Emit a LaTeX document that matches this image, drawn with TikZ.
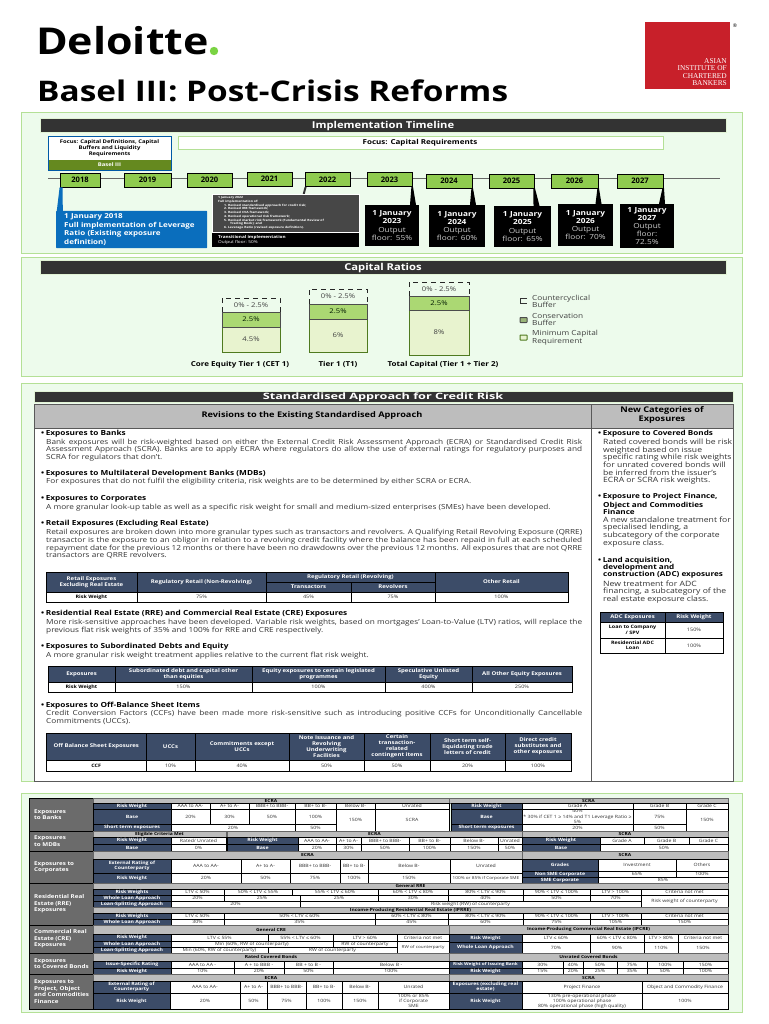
\documentclass[tikz,border=0pt]{standalone}
\usepackage{graphicx}
\usepackage{fontspec}
\setmainfont{Open Sans}[FakeStretch=1.18]
\newfontfamily\plainfont{Open Sans}
\newfontfamily\logoserif{Liberation Serif}
\usetikzlibrary{arrows.meta, positioning, calc}

\definecolor{panelfill}{HTML}{EDFBEC}
\definecolor{panelline}{HTML}{B4E096}
\definecolor{barblack}{HTML}{333333}
\definecolor{headgrey}{HTML}{BDBDBD}
\definecolor{navy}{HTML}{3C4C68}
\definecolor{sidegrey}{HTML}{6B6B6B}
\definecolor{yeargreen}{HTML}{8FCB4F}
\definecolor{stripgreen}{HTML}{65891F}
\definecolor{leverblue}{HTML}{0A6EBD}
\definecolor{midgreen}{HTML}{ABD873}
\definecolor{lowgreen}{HTML}{E8F3CF}
\definecolor{edgegreen}{HTML}{4F7A1F}
\definecolor{logored}{HTML}{C8202A}

\newcommand{\fs}[2]{\fontsize{#1}{#2}\selectfont}
\newcounter{gridno}

% one table cell: style, x1, y1, x2, y2, text
\newcommand{\gridcell}[6]{%
  \stepcounter{gridno}%
  \path[#1] (#2,#3) rectangle (#4,#5);
  \node[#1 text] (gc\arabic{gridno}) at ({(#2+#4)/2},{(#3+#5)/2}) {#6};
}
% a row of cells: y1, y2, style, list of x1/x2/text
\newcommand{\cellrow}[4]{%
  \foreach \xa/\xb/\lab in {#4} {\gridcell{#3}{\xa}{#1}{\xb}{#2}{\lab}}%
}
\newcommand{\sidelabel}[3]{%
  \stepcounter{gridno}%
  \fill[sidegrey] (29,#1) rectangle (93,#2);
  \draw[black, line width=.5pt] (29,#1) rectangle (93,#2);
  \node[sidetext] (gc\arabic{gridno}) at (34,{(#1+#2)/2}) {#3};
}
\newcommand{\bulhead}[3]{%
  \stepcounter{gridno}%
  \node[headtext] (gc\arabic{gridno}) at (#1,#2) {#3};
}

\tikzset{
  panel/.style={fill=panelfill, draw=panelline, line width=1pt},
  titlebar/.style={fill=barblack, draw=panelline!40!white, line width=.3pt},
  titletext/.style={text=white, font=\bfseries\fs{9.5}{10}, inner sep=0pt},
  yearbox/.style={fill=yeargreen, draw=black, line width=.8pt, font=\plainfont\bfseries\fs{7.6}{8}, inner sep=0pt, minimum height=14pt},
  floorbox/.style={fill=black, text=white, inner sep=0pt, align=center, font=\fs{7}{8.2}},
  navycell/.style={fill=navy, draw=black, line width=.5pt},
  navycell text/.style={text=white, font=\bfseries\fs{4.4}{5.2}, inner sep=0pt, align=center},
  midnavy/.style={fill=navy, draw=black, line width=.5pt},
  midnavy text/.style={text=white, font=\bfseries\fs{5.1}{5.9}, inner sep=0pt, align=center},
  datacell/.style={fill=white, draw=black, line width=.5pt},
  datacell text/.style={text=black!80, font=\fs{4.4}{5.1}, inner sep=0pt, align=center},
  middata/.style={fill=white, draw=black, line width=.6pt},
  middata text/.style={text=black!80, font=\fs{4.7}{5.4}, inner sep=0pt, align=center},
  rowcell/.style={fill=white, draw=black, line width=.6pt},
  rowcell text/.style={text=black, font=\bfseries\fs{4.6}{5.4}, inner sep=0pt, align=center},
  greycell/.style={fill=headgrey, draw=black!60, line width=.3pt},
  greycell text/.style={text=black, font=\bfseries\fs{4.2}{5}, inner sep=0pt, align=center},
  sidetext/.style={text=white, font=\bfseries\fs{5.3}{6.5}, inner sep=0pt, anchor=west, align=left},
  headtext/.style={text=black, font=\bfseries\fs{7}{7.6}, inner sep=0pt, anchor=west, align=left},
  sidehead/.style={text=black, font=\bfseries\fs{6.9}{7.4}, inner sep=0pt, anchor=west, align=left},
  bodytext/.style={text=black!80, font=\fs{7}{7.8}, inner sep=0pt, anchor=north west, align=justify},
  sidebody/.style={text=black!80, font=\fs{7.3}{7.6}, inner sep=0pt, anchor=north west, align=left},
  barlabel/.style={font=\bfseries\fs{6.8}{7}, inner sep=0pt, anchor=base},
  barvalue/.style={font=\fs{6.5}{7}, text=black!75, inner sep=0pt},
  legendtext/.style={font=\fs{7}{7.4}, text=black!75, inner sep=0pt, anchor=west, align=left},
}

\begin{document}
\begin{tikzpicture}[x=1pt, y=-1pt]
    \useasboundingbox (0,0) rectangle (768,1024);
    \fill[white] (0,0) rectangle (768,1024);

    % Logos and title
    \node[inner sep=0pt, anchor=base west, font=\plainfont\bfseries\fs{37}{40}] (deloitte) at (36,55) {\scalebox{1.16}[1]{Deloitte}};
    \fill[yeargreen!85!green] (214,51) circle (4.2);
    \node[inner sep=0pt, anchor=base west, font=\plainfont\bfseries\fs{28.4}{30}] (maintitle) at (37,102) {\scalebox{1.175}[1]{Basel III: Post-Crisis Reforms}};
    \fill[logored] (645,22) rectangle (730,89);
    \node[inner sep=0pt, anchor=south east, align=right, text=white, font=\logoserif\fs{7.4}{7.5}] (aicb) at (727,86) {ASIAN\\INSTITUTE OF\\CHARTERED\\BANKERS};
    \node[inner sep=0pt, font=\plainfont\fs{5}{6}] (regmark) at (735,26) {\textregistered};

    % Implementation timeline
    \draw[panel] (21,113) rectangle (742,253);
    \draw[titlebar] (40,118) rectangle (726,132);
    \node[titletext] (timelinetitle) at (383,125.8) {Implementation Timeline};
    \draw[draw=stripgreen!0, fill=white] (48,136) rectangle (171,160);
    \fill[stripgreen] (48,160) rectangle (171,170);
    \draw[draw=teal!70!blue, line width=.7pt] (48,136) rectangle (171,170);
    \node[inner sep=0pt, align=center, font=\bfseries\fs{5}{6}] (focusa) at (109.5,148) {Focus: Capital Definitions, Capital\\Buffers and Liquidity\\Requirements};
    \node[inner sep=0pt, text=white, font=\bfseries\fs{5}{6}] (baselthree) at (109.5,165) {Basel III};
    \draw[fill=white, draw=panelline, line width=.7pt] (178,136) rectangle (663,149);
    \node[inner sep=0pt, font=\bfseries\fs{6.8}{7}] (focusb) at (420,142.5) {Focus: Capital Requirements};

    \coordinate (linestart) at (48,178.5);
    \coordinate (lineend) at (720,178.5);
    \draw[black!60, line width=1.3pt] (linestart) -- (lineend);
    \foreach \yr/\xc/\yc/\wid in {2018/80/180/40, 2019/147.5/180/47, 2020/209.5/180/45, 2021/269.5/179/45,
        2022/327.5/179.5/45, 2023/389.5/179.5/45, 2024/449/181/46, 2025/511.5/181/45, 2026/574.5/181/47, 2027/640/181/46} {
      \node[yearbox, minimum width=\wid pt] (y\yr) at (\xc,\yc) {\yr};
    }

    \node[fill=leverblue, text=white, inner sep=0pt, minimum width=151pt, minimum height=37pt, rounded corners=.5pt] (lever) at (131.5,229.5) {};
    \node[inner sep=0pt, anchor=west, text width=142pt, text=white, align=left, font=\bfseries\fs{6.8}{8.6}] (levertext) at (64,229.5)
        {1 January 2018\\Full implementation of Leverage\\Ratio (Existing exposure\\definition)};
    \fill[leverblue] (y2018.south west) -- ([xshift=3pt]y2018.south west) -- ([xshift=7pt]lever.north west) -- ([xshift=1pt]lever.north west) -- cycle;

    \node[fill=barblack!90, draw=white, line width=.4pt, inner sep=0pt, minimum width=147pt, minimum height=38pt] (fullimpl) at (285.5,213) {};
    \node[inner sep=0pt, anchor=west, text=white, align=left, font=\bfseries\fs{2.9}{3.75}] (fullimpltext) at (218,213)
        {1 January 2022\\Full implementation of:\\
         \hspace*{6pt}1.\ Revised standardised approach for credit risk;\\
         \hspace*{6pt}2.\ Revised IRB framework;\\
         \hspace*{6pt}3.\ Revised CVA framework;\\
         \hspace*{6pt}4.\ Revised operational risk framework;\\
         \hspace*{6pt}5.\ Revised market risk framework (Fundamental Review of\\
         \hspace*{12pt}Trading Book); and\\
         \hspace*{6pt}6.\ Leverage Ratio (revised exposure definition).};
    \node[fill=black, inner sep=0pt, minimum width=147pt, minimum height=14pt] (transit) at (285.5,240) {};
    \node[inner sep=0pt, anchor=west, text=white, align=left, font=\fs{4}{5}] (transittext) at (218,240) {\textbf{Transitional implementation}\\Output floor: 50\%};
    \fill[barblack] (y2022.south west) -- ([xshift=2pt]y2022.south west) -- ([xshift=93pt]fullimpl.north west) -- ([xshift=91pt]fullimpl.north west) -- cycle;

    % Output floor boxes
    \foreach \yr/\xc/\yc/\wid/\hgt/\flr/\off in {2023/392/225.5/54/41/{Output\\floor: 55\%}/19,
        2024/457/226/56/42/{Output\\floor: 60\%}/14, 2025/522.5/226.5/57/41/{Output\\floor: 65\%}/12,
        2026/585.5/225/55/42/{Output\\floor: 70\%}/11, 2027/647/226/54/44/{Output\\floor:\\72.5\%}/13} {
      \node[floorbox, minimum width=\wid pt, minimum height=\hgt pt, text width=\wid pt-4pt] (f\yr) at (\xc,\yc) {\textbf{1 January}\\\textbf{\yr}\\{\color{white!80!black}\flr}};
      \fill[black] ([xshift=-1pt]y\yr.south east) -- ([xshift=.6pt]y\yr.south east) -- ([xshift=\off pt+5pt]f\yr.north) -- ([xshift=\off pt-1pt]f\yr.north) -- cycle;
    }

    % Capital ratios
    \draw[panel] (21,257) rectangle (742,376);
    \draw[titlebar] (40,260) rectangle (726,274);
    \node[titletext] (ratiotitle) at (383,267.8) {Capital Ratios};
    \foreach \nm/\xl/\xr/\ya/\yb/\yc/\yd/\low in {cet/222/280/298/312/327/352/{4.5\%}, tone/309/367/289/304/319/352/{6\%}, total/409/469/282/296/310/355/{8\%}} {
      \fill[lowgreen] (\xl,\yc) rectangle (\xr,\yd);
      \fill[midgreen] (\xl,\yb) rectangle (\xr,\yc);
      \draw[edgegreen, line width=1pt] (\xl,\yc) -- (\xl,\yd) -- (\xr,\yd) -- (\xr,\yc);
      \draw[black!70, line width=1pt] (\xl,\yb) -- (\xl,\yc) -- (\xr,\yc) -- (\xr,\yb) -- cycle;
      \draw[black!85, line width=1pt, dash pattern=on 5pt off 4pt] (\xl,\yb) -- (\xl,\ya) -- (\xr,\ya) -- (\xr,\yb);
      \node[barvalue] (\nm top) at ({(\xl+\xr)/2},{(\ya+\yb)/2}) {0\% - 2.5\%};
      \node[barvalue, text=black!90!green] (\nm mid) at ({(\xl+\xr)/2},{(\yb+\yc)/2}) {2.5\%};
      \node[barvalue] (\nm low) at ({(\xl+\xr)/2},{(\yc+\yd)/2}) {\low};
    }
    \node[barlabel] (cetname) at (240,366) {Core Equity Tier 1 (CET 1)};
    \node[barlabel] (tonename) at (338,366) {Tier 1 (T1)};
    \node[barlabel] (totalname) at (443,366) {Total Capital  (Tier 1 + Tier 2)};
    \draw[black!80, line width=1pt] (527,298) -- (520,298) -- (520,303.5) -- (527,303.5);
    \draw[black!70, fill=midgreen!60!gray, line width=1pt, rounded corners=.5pt] (520,317.5) rectangle (527,322.5);
    \draw[edgegreen, fill=lowgreen, line width=1pt, rounded corners=.5pt] (520,335) rectangle (527,340);
    \node[legendtext] (legca) at (532,301.5) {Countercyclical\\Buffer};
    \node[legendtext] (legcb) at (532,319.5) {Conservation\\Buffer};
    \node[legendtext] (legmc) at (532,337.5) {Minimum Capital\\Requirement};

    % Standardised approach
    \draw[panel] (21,383) rectangle (742,781);
    \draw[titlebar] (34,391) rectangle (733,402.5);
    \node[titletext, font=\bfseries\fs{8.8}{10}] (sacrtitle) at (383,397.4) {\scalebox{1.22}[1]{Standardised Approach for Credit Risk}};
    \fill[white] (34,404) rectangle (733,781);
    \fill[headgrey] (34,404) rectangle (733,428);
    \draw[black!65, line width=.8pt] (34,781) -- (34,404) -- (733,404) -- (733,781) -- cycle (34,428) -- (733,428) (591,404) -- (591,781);
    \node[inner sep=0pt, font=\bfseries\fs{7.8}{9}] (revhead) at (312,415) {Revisions to the Existing Standardised Approach};
    \node[inner sep=0pt, align=center, font=\bfseries\fs{7.8}{9}] (newhead) at (662,415) {New Categories of\\Exposures};

    \bulhead{41}{434}{•\hspace{1.5pt}Exposures to Banks}
    \node[bodytext, text width=536pt] (banksbody) at (46,438.5) {Bank exposures will be risk-weighted based on either the External Credit Risk Assessment Approach (ECRA) or Standardised Credit Risk\linebreak Assessment Approach (SCRA). Banks are to apply ECRA where regulators do allow the use of external ratings for regulatory purposes and\linebreak SCRA for regulators that don't.};
    \bulhead{41}{474}{•\hspace{1.5pt}Exposures to Multilateral Development Banks (MDBs)}
    \node[bodytext, text width=536pt] (mdbbody) at (46,478) {For exposures that do not fulfil the eligibility criteria, risk weights are to be determined by either SCRA or ECRA.};
    \bulhead{41}{499}{•\hspace{1.5pt}Exposures to Corporates}
    \node[bodytext, text width=536pt] (corpbody) at (46,504) {A more granular look-up table as well as a specific risk weight for small and medium-sized enterprises (SMEs) have been developed.};
    \bulhead{41}{524}{•\hspace{1.5pt}Retail Exposures (Excluding Real Estate)}
    \node[bodytext, text width=536pt] (retailbody) at (46,529) {Retail exposures are broken down into more granular types such as transactors and revolvers. A Qualifying Retail Revolving Exposure (QRRE)\linebreak transactor is the exposure to an obligor in relation to a revolving credit facility where the balance has been repaid in full at each scheduled\linebreak repayment date for the previous 12 months or there have been no drawdowns over the previous 12 months. All exposures that are not QRRE\linebreak transactors are QRRE revolvers.};

    % Retail table
    \gridcell{midnavy}{46}{572}{137}{592}{Retail Exposures\\Excluding Real Estate}
    \gridcell{midnavy}{137}{572}{266}{592}{Regulatory Retail (Non-Revolving)}
    \gridcell{midnavy}{266}{572}{435}{582}{Regulatory Retail (Revolving)}
    \gridcell{midnavy}{266}{582}{351}{592}{Transactors}
    \gridcell{midnavy}{351}{582}{435}{592}{Revolvers}
    \gridcell{midnavy}{435}{572}{568}{592}{Other Retail}
    \gridcell{rowcell}{46}{592}{137}{602}{Risk Weight}
    \cellrow{592}{602}{middata}{137/266/75\%, 266/351/45\%, 351/435/75\%, 435/568/100\%}

    \bulhead{41}{614}{•\hspace{1.5pt}Residential Real Estate (RRE) and Commercial Real Estate (CRE) Exposures}
    \node[bodytext, text width=536pt] (rrebody) at (46,619) {More risk-sensitive approaches have been developed. Variable risk weights, based on mortgages' Loan-to-Value (LTV) ratios, will replace the\linebreak previous flat risk weights of 35\% and 100\% for RRE and CRE respectively.};
    \bulhead{41}{647}{•\hspace{1.5pt}Exposures to Subordinated Debts and Equity}
    \node[bodytext, text width=536pt] (subbody) at (46,652) {A more granular risk weight treatment applies relative to the current flat risk weight.};

    % Equity table
    \cellrow{666}{682}{midnavy}{48/115/Exposures, 115/252/{Subordinated debt and capital other\\than equities}, 252/385/{Equity exposures to certain legislated\\programmes}, 385/472/{Speculative Unlisted\\Equity}, 472/572/{All Other Equity Exposures}}
    \gridcell{rowcell}{48}{682}{115}{692}{Risk Weight}
    \cellrow{682}{692}{middata}{115/252/150\%, 252/385/100\%, 385/472/400\%, 472/572/250\%}

    \bulhead{41}{706}{•\hspace{1.5pt}Exposures to Off-Balance Sheet Items}
    \node[bodytext, text width=536pt] (obsbody) at (46,710) {Credit Conversion Factors (CCFs) have been made more risk-sensitive such as introducing positive CCFs for Unconditionally Cancellable\linebreak Commitments (UCCs).};

    % Off balance sheet table
    \cellrow{733}{760}{midnavy}{46.5/146/{Off Balance Sheet Exposures}, 146/195/UCCs, 195/289/{Commitments except\\UCCs}, 289/364/{Note Issuance and\\Revolving\\Underwriting\\Facilities}, 364/430/{Certain\\transaction-\\related\\contingent items}, 430/505/{Short term self-\\liquidating trade\\letters of credit}, 505/571/{Direct credit\\substitutes and\\other exposures}}
    \gridcell{rowcell}{46.5}{760}{146}{771}{CCF}
    \cellrow{760}{771}{middata}{146/195/10\%, 195/289/40\%, 289/364/50\%, 364/430/50\%, 430/505/20\%, 505/571/100\%}

    % New categories
    \node[sidehead] (coveredhead) at (598,434) {•\hspace{1.5pt}Exposure to Covered Bonds};
    \node[sidebody] (coveredbody) at (603,439) {Rated covered bonds will be risk\\weighted based on issue\\specific rating while risk weights\\for unrated covered bonds will\\be inferred from the issuer's\\ECRA or SCRA risk weights.};
    \node[sidehead] (projhead) at (598,497) {•\hspace{1.5pt}Exposure to Project Finance,};
    \node[sidehead] (projsub) at (603,508.5) {Object and Commodities\\Finance};
    \node[sidebody] (projbody) at (603,516.5) {A new standalone treatment for\\specialised lending, a\\subcategory of the corporate\\exposure class.};
    \node[sidehead] (landhead) at (598,561) {•\hspace{1.5pt}Land acquisition,};
    \node[sidehead] (landsub) at (603,571.5) {development and\\construction (ADC) exposures};
    \node[sidebody] (landbody) at (603,580.5) {New treatment for ADC\\financing, a subcategory of the\\real estate exposure class.};
    \cellrow{612}{622}{midnavy}{600/665/{ADC Exposures}, 665/723/{Risk Weight}}
    \gridcell{rowcell}{600}{622}{665}{638}{Loan to Company\\/ SPV}
    \gridcell{middata}{665}{622}{723}{638}{150\%}
    \gridcell{rowcell}{600}{638}{665}{653}{Residential ADC\\Loan}
    \gridcell{middata}{665}{638}{723}{653}{100\%}

    % Risk weight tables
    \draw[panel] (21,793) rectangle (742,1012);
    \sidelabel{798}{831}{Exposures\\to Banks}
    \sidelabel{831}{851}{Exposures\\to MDBs}
    \sidelabel{851}{883}{Exposures to\\Corporates}
    \sidelabel{883}{925}{Residential Real\\Estate (RRE)\\Exposures}
    \sidelabel{925}{953}{Commercial Real\\Estate (CRE)\\Exposures}
    \sidelabel{953}{974}{Exposures\\to Covered Bonds}
    \sidelabel{974}{1009}{Exposures to\\Project, Object\\and Commodities\\Finance}

    % Banks
    \cellrow{798}{803}{greycell}{93/449/ECRA, 449/728/SCRA}
    \cellrow{803}{809}{navycell}{93/171/{Risk Weight}, 451/522/{Risk Weight}}
    \cellrow{803}{809}{datacell}{171/210/{AAA to AA-}, 210/249/{A+ to A-}, 249/295/{BBB+ to BBB-}, 295/336/{BB+ to B-}, 336/375/{Below B-}, 375/449/Unrated, 522/633/{Grade A}, 633/686/{Grade B}, 686/728/{Grade C}}
    \cellrow{809}{824}{navycell}{93/171/Base, 451/522/Base}
    \cellrow{809}{824}{datacell}{171/210/20\%, 210/249/30\%, 249/295/50\%, 295/336/100\%, 522/633/{40\%\\* 30\% if CET 1 ≥ 14\% and T1 Leverage Ratio ≥\\5\%}, 633/686/75\%}
    \cellrow{809}{831}{datacell}{336/375/150\%, 375/449/SCRA, 686/728/150\%}
    \cellrow{824}{831}{navycell}{93/171/{Short term exposures}, 451/522/{Short term exposures}}
    \cellrow{824}{831}{datacell}{171/295/20\%, 295/336/50\%, 522/633/20\%, 633/686/50\%}

    % MDBs
    \cellrow{831}{837}{greycell}{93/226/{Eligible Criteria Met}, 227/522/ECRA, 522/728/SCRA}
    \cellrow{837}{844}{navycell}{93/171/{Risk Weight}, 227/298/{Risk Weight}, 522/600/{Risk Weight}}
    \cellrow{837}{844}{datacell}{171/226/{Rated/ Unrated}, 298/336/{AAA to AA-}, 336/361/{A+ to A-}, 361/409/{BBB+ to BBB-}, 409/450/{BB+ to B-}, 450/498/{Below B-}, 498/522/Unrated, 600/644/{Grade A}, 644/689/{Grade B}, 689/728/{Grade C}}
    \cellrow{844}{851}{navycell}{93/171/Base, 227/298/Base, 522/600/Base}
    \cellrow{844}{851}{datacell}{171/226/0\%, 298/336/20\%, 336/361/30\%, 361/409/50\%, 409/450/100\%, 450/498/150\%, 498/522/50\%, 600/728/50\%}

    % Corporates
    \cellrow{851}{859}{greycell}{93/522/ECRA, 522/728/SCRA}
    \cellrow{859}{873}{navycell}{93/171/{External Rating of\\Counterparty}}
    \cellrow{859}{873}{datacell}{171/241/{AAA to AA-}, 241/290/{A+ to A-}, 290/340/{BBB+ to BBB-}, 340/368/{BB+ to B-}, 368/450/{Below B-}, 450/522/Unrated}
    \cellrow{873}{883}{navycell}{93/171/{Risk Weight}}
    \cellrow{873}{883}{datacell}{171/241/20\%, 241/290/50\%, 290/340/75\%, 340/368/100\%, 368/450/150\%, 450/522/{\fs{4}{5}100\% or 85\% if Corporate SME}}
    \cellrow{859}{871}{navycell}{522/598/Grades}
    \cellrow{859}{871}{datacell}{598/676/Investment, 676/728/Others}
    \cellrow{871}{877}{navycell}{522/598/{Non SME Corporate}}
    \cellrow{871}{877}{datacell}{598/676/65\%, 676/728/100\%}
    \cellrow{877}{883}{navycell}{522/598/{SME Corporate}}
    \cellrow{877}{883}{datacell}{598/728/85\%}

    % Residential real estate
    \cellrow{883}{889}{greycell}{93/728/{General RRE}}
    \cellrow{889}{895}{navycell}{93/171/{Risk Weights}}
    \cellrow{889}{895}{datacell}{171/224/{LTV ≤ 50\%}, 224/292/{50\% < LTV ≤ 55\%}, 292/378/{55\% < LTV ≤ 60\%}, 378/448/{60\% < LTV ≤ 80\%}, 448/523/{80\% < LTV ≤ 90\%}, 523/590/{90\% < LTV ≤ 100\%}, 590/641/{LTV > 100\%}, 641/728/{Criteria not met}}
    \cellrow{895}{901}{navycell}{93/171/{Whole Loan Approach}}
    \cellrow{895}{901}{datacell}{171/224/20\%, 224/300/25\%, 300/378/25\%, 378/448/30\%, 448/523/40\%, 523/590/50\%, 590/641/70\%}
    \cellrow{901}{907}{navycell}{93/171/{Loan-Splitting Approach}}
    \cellrow{901}{907}{datacell}{171/300/20\%, 300/641/{Risk weight (RW) of counterparty}}
    \gridcell{datacell}{641}{895}{728}{907}{Risk weight of counterparty}
    \cellrow{907}{913}{greycell}{93/728/{Income-Producing Residential Real Estate (IPRRE)}}
    \cellrow{913}{919}{navycell}{93/171/{Risk Weights}}
    \cellrow{913}{919}{datacell}{171/224/{LTV ≤ 50\%}, 224/375/{50\% < LTV ≤ 60\%}, 375/448/{60\% < LTV ≤ 80\%}, 448/523/{80\% < LTV ≤ 90\%}, 523/590/{90\% < LTV ≤ 100\%}, 590/641/{LTV > 100\%}, 641/728/{Criteria not met}}
    \cellrow{919}{925}{navycell}{93/171/{Whole Loan Approach}}
    \cellrow{919}{925}{datacell}{171/224/30\%, 224/375/35\%, 375/448/45\%, 448/523/60\%, 523/590/75\%, 590/641/105\%, 641/728/150\%}

    % Commercial real estate
    \cellrow{925}{934}{greycell}{93/449/{General CRE}, 449/728/{Income-Producing Commercial Real Estate (IPCRE)}}
    \cellrow{934}{941}{navycell}{93/171/{Risk Weight}}
    \cellrow{934}{941}{datacell}{171/268/{LTV ≤ 55\%}, 268/333/{55\% < LTV ≤ 60\%}, 333/397/{LTV > 60\%}, 397/449/{Criteria not met}}
    \cellrow{941}{947}{navycell}{93/171/{Whole Loan Approach}}
    \cellrow{941}{947}{datacell}{171/333/{Min (60\%, RW of counterparty)}, 333/397/{RW of counterparty}}
    \cellrow{947}{953}{navycell}{93/171/{Loan-Splitting Approach}}
    \cellrow{947}{953}{datacell}{171/268/{Min (60\%, RW of counterparty)}, 268/397/{RW of counterparty}}
    \gridcell{datacell}{397}{941}{449}{953}{\fs{4}{5}RW of counterparty}
    \cellrow{934}{942}{navycell}{449/522/{Risk Weight}}
    \cellrow{934}{942}{datacell}{522/590/{LTV ≤ 60\%}, 590/644/{60\% < LTV ≤ 80\%}, 644/678/{LTV > 80\%}, 678/728/{Criteria not met}}
    \cellrow{942}{953}{navycell}{449/522/{Whole Loan Approach}}
    \cellrow{942}{953}{datacell}{522/590/70\%, 590/644/90\%, 644/678/110\%, 678/728/150\%}

    % Covered bonds
    \cellrow{953}{961}{greycell}{93/449/{Rated Covered Bonds}, 449/728/{Unrated Covered Bonds}}
    \cellrow{961}{968}{navycell}{93/171/{Issue-Specific Rating}, 449/522/{\fs{4}{5}Risk Weight of Issuing Bank}}
    \cellrow{961}{968}{datacell}{171/234/{AAA to AA -}, 234/284/{A + to BBB -}, 284/333/{BB + to B -}, 333/449/{Below B -}, 522/563/30\%, 563/583/40\%, 583/617/50\%, 617/647/75\%, 647/683/100\%, 683/728/150\%}
    \cellrow{968}{974}{navycell}{93/171/{Risk Weight}, 449/522/{Risk Weight}}
    \cellrow{968}{974}{datacell}{171/234/10\%, 234/284/20\%, 284/333/50\%, 333/449/100\%, 522/563/15\%, 563/583/20\%, 583/617/25\%, 617/647/35\%, 647/683/50\%, 683/728/100\%}

    % Project finance
    \cellrow{974}{981}{greycell}{93/449/ECRA, 449/728/SCRA}
    \cellrow{981}{993}{navycell}{93/170/{External Rating of\\Counterparty}, 449/522/{Exposures (excluding real\\estate)}}
    \cellrow{981}{993}{datacell}{170/240/{AAA to AA-}, 240/267/{A+ to A-}, 267/306/{BBB+ to BBB-}, 306/342/{BB+ to B-}, 342/378/{Below B-}, 378/449/Unrated, 522/642/{Project Finance}, 642/728/{Object and Commodity Finance}}
    \cellrow{993}{1009}{navycell}{93/170/{Risk Weight}, 449/522/{Risk Weight}}
    \cellrow{993}{1009}{datacell}{170/240/20\%, 240/267/50\%, 267/306/75\%, 306/342/100\%, 342/378/150\%, 378/449/{100\% or 85\%\\if Corporate\\SME}, 522/642/{130\% pre-operational phase\\100\% operational phase\\80\% operational phase (high quality)}, 642/728/100\%}
\end{tikzpicture}
\end{document}
